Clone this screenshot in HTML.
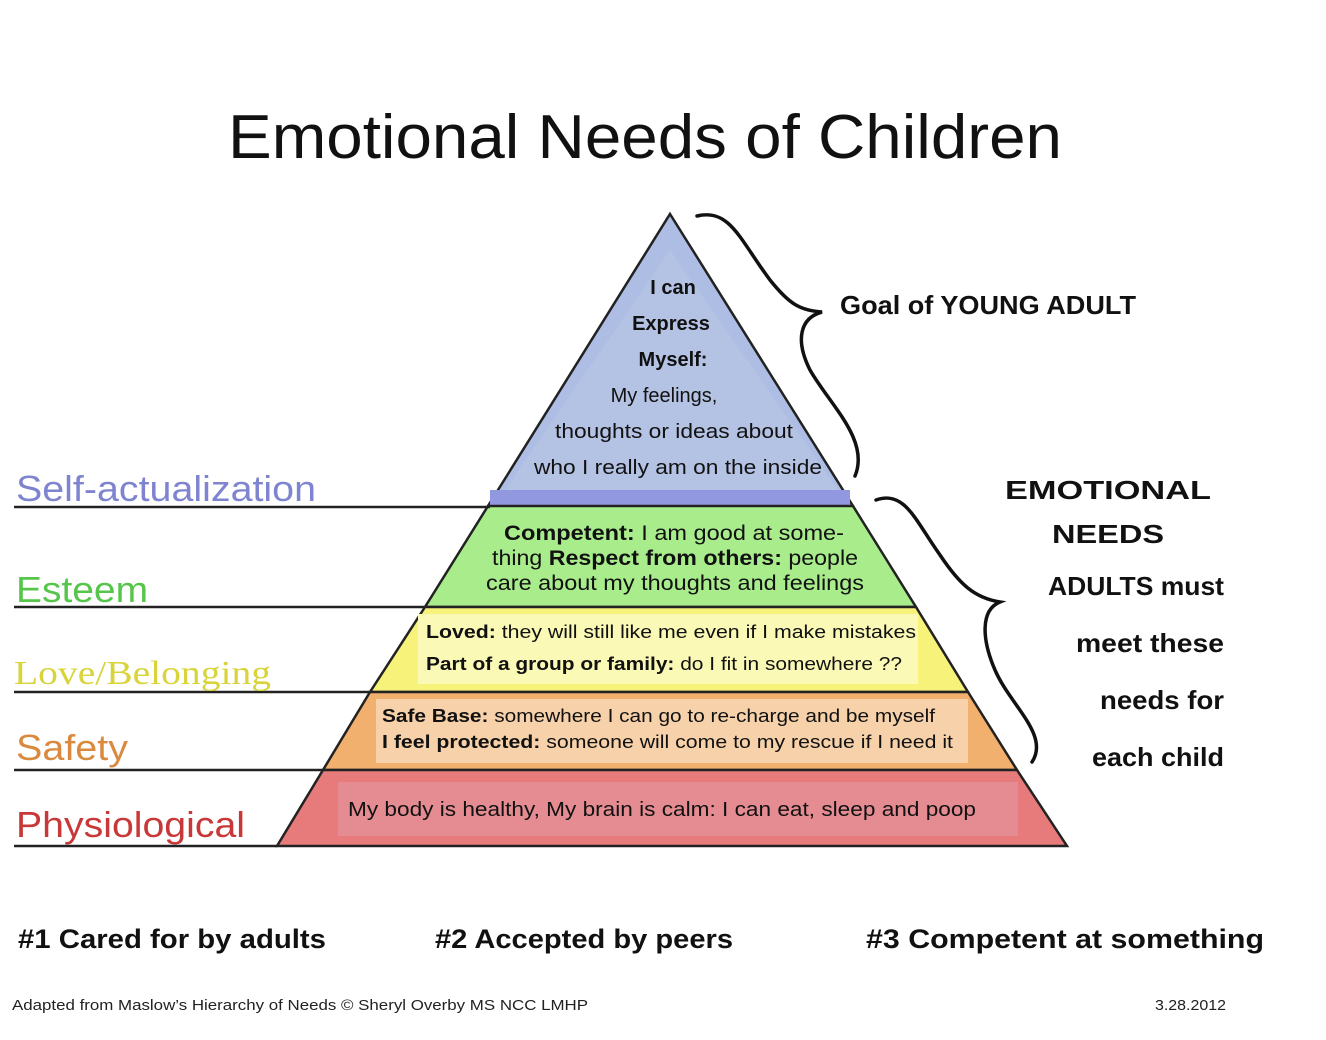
<!DOCTYPE html>
<html><head><meta charset="utf-8"><style>
html,body{margin:0;padding:0;background:#fff;}
svg{display:block}
text{font-family:"Liberation Sans",sans-serif;}
</style></head><body>
<svg width="1326" height="1040" viewBox="0 0 1326 1040" xmlns="http://www.w3.org/2000/svg">
<text x="228" y="158" font-size="62" textLength="834" lengthAdjust="spacingAndGlyphs" fill="#111">Emotional  Needs of Children</text>

<polygon points="670,214 853,506 488,506" fill="#aebde3" stroke="#222" stroke-width="2.5"/>
<polygon points="670,250 838,490 505,490" fill="#b7c4e2" opacity="0.6"/>
<rect x="490" y="490" width="360" height="15" fill="#9298e0"/>
<polygon points="488,506 853,506 916,607 425,607" fill="#a8ec8c" stroke="#222" stroke-width="2.5"/>
<polygon points="425,607 916,607 968,692 370,692" fill="#f6f27a" stroke="#222" stroke-width="2.5"/>
<rect x="418" y="614" width="500" height="70" fill="#fbf9b6"/>
<polygon points="370,692 968,692 1017,770 323,770" fill="#f1b06e" stroke="#222" stroke-width="2.5"/>
<rect x="376" y="699" width="592" height="64" fill="#f6d1a9"/>
<polygon points="323,770 1017,770 1067,846 277,846" fill="#e77a7a" stroke="#222" stroke-width="2.5"/>
<rect x="338" y="782" width="680" height="54" fill="#e58c92"/>

<g stroke="#222" stroke-width="2.5">
<line x1="14" y1="507" x2="490" y2="507"/>
<line x1="14" y1="607" x2="425" y2="607"/>
<line x1="14" y1="692" x2="370" y2="692"/>
<line x1="14" y1="770" x2="323" y2="770"/>
<line x1="14" y1="846" x2="277" y2="846"/>
</g>
<text x="16" y="501" font-size="36" fill="#7e84cf" textLength="300" lengthAdjust="spacingAndGlyphs">Self-actualization</text>
<text x="16" y="602" font-size="36" fill="#55c64a" textLength="132" lengthAdjust="spacingAndGlyphs">Esteem</text>
<text x="14" y="684" font-size="34" fill="#d8d43a" style="font-family:'Liberation Serif',serif" textLength="257" lengthAdjust="spacingAndGlyphs">Love/Belonging</text>
<text x="16" y="760" font-size="36" fill="#d98a3e" textLength="112" lengthAdjust="spacingAndGlyphs">Safety</text>
<text x="16" y="837" font-size="36" fill="#c93838" textLength="229" lengthAdjust="spacingAndGlyphs">Physiological</text>

<g font-size="20" fill="#111" text-anchor="middle">
<text x="673" y="294" font-weight="bold">I can</text>
<text x="671" y="330" font-weight="bold">Express</text>
<text x="673" y="366" font-weight="bold">Myself:</text>
<text x="664" y="402">My feelings,</text>
<text x="674" y="438" textLength="238" lengthAdjust="spacingAndGlyphs">thoughts or ideas about</text>
<text x="678" y="474" textLength="288" lengthAdjust="spacingAndGlyphs">who I really am on the inside</text>
</g>
<g font-size="21" fill="#111">
<text x="504" y="540" textLength="340" lengthAdjust="spacingAndGlyphs"><tspan font-weight="bold">Competent:</tspan>  I am good at some-</text>
<text x="492" y="565" textLength="366" lengthAdjust="spacingAndGlyphs">thing  <tspan font-weight="bold">Respect from others:</tspan>  people</text>
<text x="486" y="590" textLength="378" lengthAdjust="spacingAndGlyphs">care about my thoughts and feelings</text>
</g>
<g font-size="18" fill="#111">
<text x="426" y="638" textLength="490" lengthAdjust="spacingAndGlyphs"><tspan font-weight="bold">Loved:</tspan> they will still like me even if I make mistakes</text>
<text x="426" y="670" textLength="476" lengthAdjust="spacingAndGlyphs"><tspan font-weight="bold">Part of a group or family:</tspan>  do I fit in somewhere ??</text>
<text x="382" y="722" textLength="553" lengthAdjust="spacingAndGlyphs"><tspan font-weight="bold">Safe Base:</tspan>  somewhere I can go to re-charge and be myself</text>
<text x="382" y="748" textLength="571" lengthAdjust="spacingAndGlyphs"><tspan font-weight="bold">I feel protected:</tspan> someone will come to my rescue if I need it</text>
<text x="348" y="816" font-size="20" textLength="628" lengthAdjust="spacingAndGlyphs">My body is healthy, My brain is calm:  I can eat, sleep and poop</text>
</g>

<g fill="none" stroke="#111" stroke-width="3.5" stroke-linecap="round">
<path d="M697,216 C730,208 740,240 770,280 C790,305 800,310 822,312 C800,318 795,340 810,370 C830,405 870,440 855,476"/>
<path d="M876,500 C905,490 915,520 940,555 C960,585 975,598 1000,602 C980,610 982,640 995,670 C1010,705 1050,735 1032,762"/>
</g>
<g font-size="26" font-weight="bold" fill="#111">
<text x="840" y="314" textLength="296" lengthAdjust="spacingAndGlyphs">Goal of YOUNG ADULT</text>
<text x="1005" y="499" textLength="206" lengthAdjust="spacingAndGlyphs">EMOTIONAL</text>
<text x="1052" y="543" textLength="112" lengthAdjust="spacingAndGlyphs">NEEDS</text>
<text x="1048" y="595" textLength="176" lengthAdjust="spacingAndGlyphs">ADULTS must</text>
<text x="1076" y="652" textLength="148" lengthAdjust="spacingAndGlyphs">meet these</text>
<text x="1100" y="709" textLength="124" lengthAdjust="spacingAndGlyphs">needs for</text>
<text x="1092" y="766" textLength="132" lengthAdjust="spacingAndGlyphs">each child</text>
</g>
<g font-size="27" font-weight="bold" fill="#111">
<text x="18" y="948" textLength="308" lengthAdjust="spacingAndGlyphs">#1 Cared for by adults</text>
<text x="435" y="948" textLength="298" lengthAdjust="spacingAndGlyphs">#2 Accepted by peers</text>
<text x="866" y="948" textLength="398" lengthAdjust="spacingAndGlyphs">#3 Competent at something</text>
</g>
<text x="12" y="1010" font-size="15" fill="#222" textLength="576" lengthAdjust="spacingAndGlyphs">Adapted from Maslow’s Hierarchy of Needs © Sheryl Overby  MS  NCC   LMHP</text>
<text x="1155" y="1010" font-size="15" fill="#222" textLength="71" lengthAdjust="spacingAndGlyphs">3.28.2012</text>
</svg>
</body></html>
